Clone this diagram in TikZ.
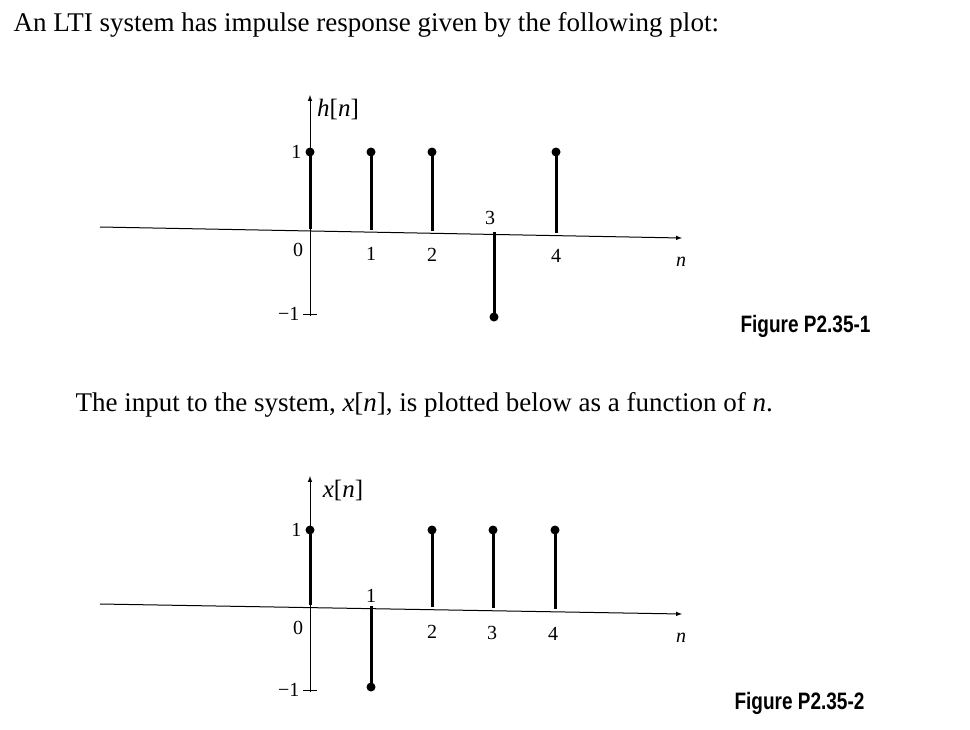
\documentclass[tikz,border=0pt]{standalone}
\usepackage{fontspec}
\setmainfont{Liberation Serif}
\newfontfamily\figfont{Liberation Sans}
\begin{document}
\begin{tikzpicture}[x=1pt,y=-1pt,
  ax/.style={line width=1pt,-latex},
  stem/.style={line width=3pt},
  dot/.style={circle,fill=black,inner sep=0pt,minimum size=9pt},
  lbl/.style={font=\fontsize{20}{20}\selectfont},
  figlbl/.style={font=\figfont\bfseries\fontsize{19}{19}\selectfont,anchor=east,yscale=1.25}]
\useasboundingbox (0,0) rectangle (970,729);
\node[anchor=west,font=\fontsize{27}{27}\selectfont] (t1) at (10,25) {An LTI system has impulse response given by the following plot:};
\node[anchor=west,font=\fontsize{27}{27}\selectfont] (t2) at (72,405) {The input to the system, {\itshape x}[{\itshape n}], is plotted below as a function of {\itshape n}.};
% top plot
\coordinate (hl) at (100,227); \coordinate (hr) at (682,238);
\draw[ax] (hl) -- (hr);
\coordinate (hb) at (310,316); \coordinate (ht) at (310,95);
\draw[ax] (hb) -- (ht);
\draw (303,314) -- (317,314);
\node[lbl,anchor=east] (h1) at (305,152) {1};
\node[lbl,anchor=east] (hm1) at (303,314) {−1};
\node[font=\fontsize{25}{25}\selectfont] (hn) at (338,109) {{\itshape h}[{\itshape n}]};
\foreach \x/\yv/\base/\nm in {310/152/229/a,371/152/230/b,432/152/231/c,494/317/232/d,556/152/233/e}{
  \coordinate (b\nm) at (\x,\base);
  \node[dot] (d\nm) at (\x,\yv) {};
  \draw[stem] (b\nm) -- (d\nm.center);
}
\node[lbl] (l0) at (298,250) {0};
\node[lbl] (l1) at (371,254) {1};
\node[lbl] (l2) at (432,255) {2};
\node[lbl] (l3) at (490,218) {3};
\node[lbl] (l4) at (556,256) {4};
\node[lbl] (ln) at (681,262) {\itshape n};
\node[figlbl] (f1) at (874,326) {Figure P2.35-1};
% bottom plot
\coordinate (xl) at (100,604); \coordinate (xr) at (682,614);
\draw[ax] (xl) -- (xr);
\coordinate (xb) at (310,692); \coordinate (xt) at (310,476);
\draw[ax] (xb) -- (xt);
\draw (303,690) -- (317,690);
\node[lbl,anchor=east] (x1) at (305,530) {1};
\node[lbl,anchor=east] (xm1) at (303,690) {−1};
\node[font=\fontsize{25}{25}\selectfont] (xn) at (343,490) {{\itshape x}[{\itshape n}]};
\foreach \x/\yv/\base/\nm in {310/530/605/p,371/687/606/q,432/530/607/r,493/530/608/s,555/530/609/u}{
  \coordinate (c\nm) at (\x,\base);
  \node[dot] (e\nm) at (\x,\yv) {};
  \draw[stem] (c\nm) -- (e\nm.center);
}
\node[lbl] (m0) at (298,628) {0};
\node[lbl] (m1) at (371,596) {1};
\node[lbl] (m2) at (432,632) {2};
\node[lbl] (m3) at (492,633) {3};
\node[lbl] (m4) at (553,634) {4};
\node[lbl] (mn) at (681,638) {\itshape n};
\node[figlbl] (f2) at (868,703) {Figure P2.35-2};
\end{tikzpicture}
\end{document}
